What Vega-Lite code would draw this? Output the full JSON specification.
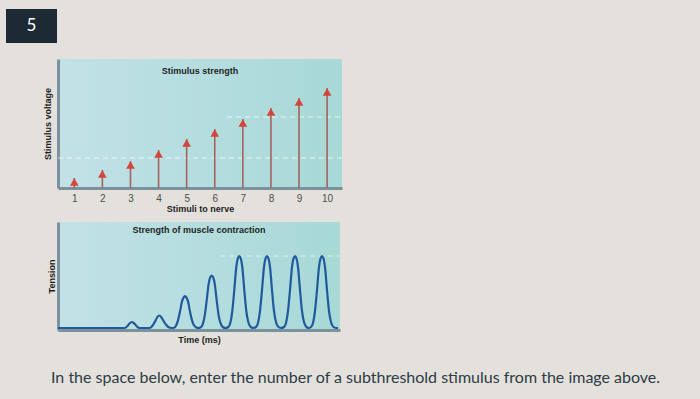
{
  "$schema": "https://vega.github.io/schema/vega-lite/v6.json",
  "background": "#e4e1dc",
  "padding": {"left": 6, "top": 9, "right": 40, "bottom": 14},
  "title": {"text": "In the space below, enter the number of a subthreshold stimulus from the image above.", "orient": "bottom", "anchor": "start", "dx": 45, "offset": 26, "font": "Lato", "fontSize": 16, "fontWeight": "normal", "color": "#2d3b45"},
  "bounds": "flush",
  "spacing": 16,
  "vconcat": [
    {
      "width": 51, "height": 34,
      "view": {"fill": "#1d2a35", "stroke": null},
      "data": {"values": [{"question": "5"}]},
      "mark": {"type": "text", "font": "Lato", "fontSize": 17, "color": "#ffffff", "baseline": "middle", "align": "center"},
      "encoding": {"text": {"field": "question", "type": "nominal"}}
    },
    {
      "bounds": "flush",
      "spacing": 0,
      "hconcat": [
        {
          "width": 52, "height": 20,
          "view": {"fill": null, "stroke": null},
          "data": {"values": []},
          "mark": {"type": "point", "opacity": 0}
        },
        {
          "bounds": "flush",
          "spacing": 34,
          "vconcat": [
            {
              "width": 284, "height": 129,
              "title": {"text": "Stimulus strength", "offset": -17, "fontSize": 9, "fontWeight": "bold", "font": "Liberation Sans", "color": "#1e1e1e", "anchor": "middle"},
              "view": {"fill": {"gradient": "linear", "x1": 0, "x2": 1, "y1": 0, "y2": 0, "stops": [{"offset": 0, "color": "#c2e1e7"}, {"offset": 1, "color": "#a7d9d6"}]}, "stroke": null},
              "layer": [
                {
                  "data": {"values": [{"level": 30, "start": 0.42}, {"level": 71, "start": 6.44}]},
                  "mark": {"type": "rule", "color": "#ffffff", "opacity": 0.7, "strokeDash": [5, 4], "strokeWidth": 1},
                  "encoding": {
                    "x": {"field": "start", "type": "quantitative", "title": "Stimuli to nerve", "scale": {"domain": [0.42, 10.53], "nice": false, "zero": false}, "axis": {"values": [1, 2, 3, 4, 5, 6, 7, 8, 9, 10]}},
                    "x2": {"value": "width"},
                    "y": {"field": "level", "type": "quantitative", "title": "Stimulus voltage", "scale": {"domain": [0, 129], "nice": false}}
                  }
                },
                {
                  "data": {"name": "stim", "values": [{"stimulus": 1, "voltage": 10}, {"stimulus": 2, "voltage": 18}, {"stimulus": 3, "voltage": 27}, {"stimulus": 4, "voltage": 38}, {"stimulus": 5, "voltage": 49}, {"stimulus": 6, "voltage": 59}, {"stimulus": 7, "voltage": 69}, {"stimulus": 8, "voltage": 80}, {"stimulus": 9, "voltage": 90}, {"stimulus": 10, "voltage": 100}]},
                  "layer": [
                    {
                      "mark": {"type": "rule", "color": "#a5625f", "strokeWidth": 1.6},
                      "encoding": {"y2": {"datum": 0}}
                    },
                    {
                      "mark": {"type": "point", "shape": "triangle-up", "filled": true, "size": 75, "color": "#d4443a", "opacity": 1},
                      "encoding": {"yOffset": {"value": 4}}
                    }
                  ],
                  "encoding": {
                    "x": {"field": "stimulus", "type": "quantitative", "title": "Stimuli to nerve", "scale": {"domain": [0.42, 10.53], "nice": false, "zero": false}, "axis": {"values": [1, 2, 3, 4, 5, 6, 7, 8, 9, 10]}},
                    "y": {"field": "voltage", "type": "quantitative", "title": "Stimulus voltage", "scale": {"domain": [0, 129], "nice": false}}
                  }
                }
              ],
              "encoding": {}
            },
            {
              "width": 282, "height": 108,
              "title": {"text": "Strength of muscle contraction", "offset": -13, "fontSize": 9, "fontWeight": "bold", "font": "Liberation Sans", "color": "#1e1e1e", "anchor": "middle"},
              "view": {"fill": {"gradient": "linear", "x1": 0, "x2": 1, "y1": 0, "y2": 0, "stops": [{"offset": 0, "color": "#c2e1e7"}, {"offset": 1, "color": "#a7d9d6"}]}, "stroke": null},
              "layer": [
                {
                  "data": {"values": [{"level": 74, "start": 162}]},
                  "mark": {"type": "rule", "color": "#ffffff", "opacity": 0.6, "strokeDash": [5, 4], "strokeWidth": 1},
                  "encoding": {
                    "x": {"field": "start", "type": "quantitative", "title": "Time (ms)", "scale": {"domain": [0, 282], "nice": false, "zero": false}, "axis": {"labels": false, "titlePadding": 5}},
                    "x2": {"value": "width"},
                    "y": {"field": "level", "type": "quantitative", "title": "Tension", "scale": {"domain": [0, 108], "nice": false}, "axis": {"titlePadding": 2}}
                  }
                },
                {
                  "data": {"values": [
                    {"t": 0, "tension": 2}, {"t": 66.7, "tension": 2}, {"t": 69.7, "tension": 4.2}, {"t": 71.7, "tension": 6.7}, {"t": 73.7, "tension": 8}, {"t": 75.7, "tension": 7}, {"t": 77.7, "tension": 5}, {"t": 80.2, "tension": 2.5}, {"t": 81.7, "tension": 2},
                    {"t": 91.3, "tension": 2}, {"t": 94.3, "tension": 4}, {"t": 97.3, "tension": 9}, {"t": 99.3, "tension": 12.8}, {"t": 101.3, "tension": 14.5}, {"t": 103.3, "tension": 12.8}, {"t": 105.3, "tension": 9.5}, {"t": 108.3, "tension": 5}, {"t": 111.3, "tension": 2.4}, {"t": 113.3, "tension": 2},
                    {"t": 116, "tension": 2.3}, {"t": 118, "tension": 4.2}, {"t": 120, "tension": 9.6}, {"t": 122, "tension": 18.4}, {"t": 124, "tension": 28.6}, {"t": 125.5, "tension": 32.4}, {"t": 127, "tension": 34}, {"t": 128.5, "tension": 32.4}, {"t": 130, "tension": 28.6}, {"t": 132, "tension": 18.4}, {"t": 134, "tension": 9.6}, {"t": 136, "tension": 4.7}, {"t": 138, "tension": 2.7}, {"t": 140.4, "tension": 2},
                    {"t": 142.7, "tension": 2.7}, {"t": 144.7, "tension": 5.6}, {"t": 146.7, "tension": 14.3}, {"t": 148.7, "tension": 29.6}, {"t": 150.7, "tension": 46.4}, {"t": 152.2, "tension": 52.6}, {"t": 153.7, "tension": 54.5}, {"t": 155.2, "tension": 52.6}, {"t": 156.7, "tension": 46.4}, {"t": 158.7, "tension": 29.6}, {"t": 160.7, "tension": 14.3}, {"t": 162.7, "tension": 6.3}, {"t": 164.7, "tension": 3}, {"t": 167.5, "tension": 2},
                    {"t": 170.3, "tension": 3}, {"t": 172.3, "tension": 7}, {"t": 174.3, "tension": 19}, {"t": 176.3, "tension": 40}, {"t": 178.3, "tension": 63}, {"t": 179.8, "tension": 71.5}, {"t": 181.3, "tension": 74}, {"t": 182.8, "tension": 71.5}, {"t": 184.3, "tension": 63}, {"t": 186.3, "tension": 40}, {"t": 188.3, "tension": 19}, {"t": 190.3, "tension": 8}, {"t": 192.3, "tension": 3.5}, {"t": 195.2, "tension": 2},
                    {"t": 198, "tension": 3}, {"t": 200, "tension": 7}, {"t": 202, "tension": 19}, {"t": 204, "tension": 40}, {"t": 206, "tension": 63}, {"t": 207.5, "tension": 71.5}, {"t": 209, "tension": 74}, {"t": 210.5, "tension": 71.5}, {"t": 212, "tension": 63}, {"t": 214, "tension": 40}, {"t": 216, "tension": 19}, {"t": 218, "tension": 8}, {"t": 220, "tension": 3.5}, {"t": 223, "tension": 2},
                    {"t": 226, "tension": 3}, {"t": 228, "tension": 7}, {"t": 230, "tension": 19}, {"t": 232, "tension": 40}, {"t": 234, "tension": 63}, {"t": 235.5, "tension": 71.5}, {"t": 237, "tension": 74}, {"t": 238.5, "tension": 71.5}, {"t": 240, "tension": 63}, {"t": 242, "tension": 40}, {"t": 244, "tension": 19}, {"t": 246, "tension": 8}, {"t": 248, "tension": 3.5}, {"t": 250.5, "tension": 2},
                    {"t": 253, "tension": 3}, {"t": 255, "tension": 7}, {"t": 257, "tension": 19}, {"t": 259, "tension": 40}, {"t": 261, "tension": 63}, {"t": 262.5, "tension": 71.5}, {"t": 264, "tension": 74}, {"t": 265.5, "tension": 71.5}, {"t": 267, "tension": 63}, {"t": 269, "tension": 40}, {"t": 271, "tension": 19}, {"t": 273, "tension": 8}, {"t": 275, "tension": 3.5}, {"t": 278, "tension": 2}, {"t": 280, "tension": 2}
                  ]},
                  "mark": {"type": "line", "interpolate": "monotone", "color": "#1f5a9c", "strokeWidth": 2.2},
                  "encoding": {
                    "x": {"field": "t", "type": "quantitative", "title": "Time (ms)", "scale": {"domain": [0, 282], "nice": false, "zero": false}, "axis": {"labels": false, "titlePadding": 5}},
                    "y": {"field": "tension", "type": "quantitative", "title": "Tension", "scale": {"domain": [0, 108], "nice": false}, "axis": {"titlePadding": 2}}
                  }
                }
              ],
              "encoding": {}
            }
          ]
        }
      ]
    }
  ],
  "config": {
    "view": {"stroke": null},
    "font": "Liberation Sans",
    "axis": {"grid": false, "ticks": false, "domainColor": "#7b929c", "domainWidth": 3, "labelFont": "Liberation Sans", "labelFontSize": 10, "labelColor": "#4d4d4d", "titleFont": "Liberation Sans", "titleFontSize": 9, "titleFontWeight": "bold", "titleColor": "#1e1e1e"},
    "axisX": {"labelPadding": 5, "titlePadding": 1},
    "axisY": {"labels": false, "titlePadding": 6}
  }
}
